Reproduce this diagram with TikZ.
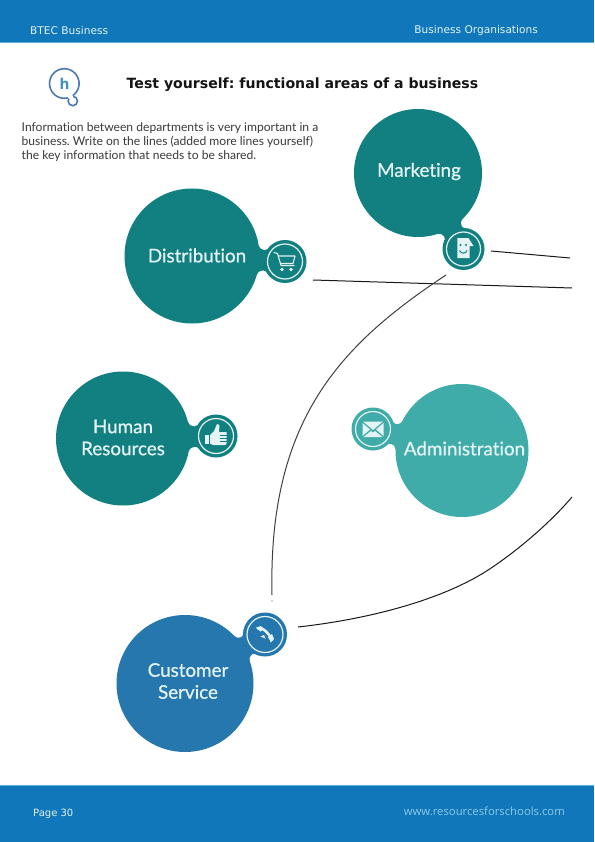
\documentclass[tikz,border=0pt]{standalone}
\usepackage{fontspec}
\setmainfont{Open Sans}
\newfontfamily\headfont{DejaVu Sans}
\newfontfamily\labfont[Ligatures=CommonOff]{Lato}
\frenchspacing
\definecolor{hdr}{HTML}{0F77BA}
\definecolor{hdrline}{HTML}{5FB0DC}
\definecolor{tealb}{HTML}{127F80}
\definecolor{teall}{HTML}{3FACA9}
\definecolor{blueb}{HTML}{2577AE}
\definecolor{ico}{HTML}{E4F3F3}
\definecolor{bodyt}{HTML}{3A3A3A}
\definecolor{hring}{HTML}{4F77B4}
\definecolor{hletter}{HTML}{3A8FC6}
\tikzset{
  band/.style={fill=hdr,draw=none},
  lab/.style={text=ico,font=\labfont\addfontfeature{FakeBold=0.8}\fontsize{18.8}{22}\selectfont,align=center,inner sep=0pt},
  ring/.style={draw=ico,line width=1.2pt,fill=none},
  iconline/.style={draw=ico,line width=1.1pt,fill=none,line cap=round,line join=round},
  hdrtxt/.style={text=ico,font=\headfont\fontsize{10.6}{12}\selectfont,inner sep=0pt},
  wline/.style={draw=black!90,line width=1pt},
}
\newcommand{\bubble}[8]{% name, colour, cx, cy, r, ix, iy, ir
  \fill[#2] (#3,#4) circle[radius=#5];
  \fill[#2] (#6,#7) circle[radius=#8];
  \pgfmathsetmacro{\nka}{atan2(#7-#4,#6-#3)}
  \pgfmathsetmacro{\nkd}{veclen(#6-#3,#7-#4)}
  \pgfmathsetmacro{\nkx}{sqrt(#5*#5-225)}
  \pgfmathsetmacro{\nky}{\nkd-sqrt(#8*#8-225)}
  \begin{scope}[shift={(#3,#4)},rotate=-\nka]
    \fill[#2] (\nkx,15) .. controls (\nkx+2,8.5) and (\nky-2,8.5) .. (\nky,15)
      -- (\nky,-15) .. controls (\nky-2,-8.5) and (\nkx+2,-8.5) .. (\nkx,-15) -- cycle;
  \end{scope}
  \coordinate (#1) at (#3,#4);
  \coordinate (#1i) at (#6,#7);
  \draw[ring] (#6,#7) circle[radius=#8-4];
}
\begin{document}
\begin{tikzpicture}[x=1pt,y=-1pt]
\useasboundingbox (0,0) rectangle (594,842);
\fill[white] (0,0) rectangle (594,842);
% bands
\fill[band] (0,0) rectangle (594,42);
\draw[hdrline,line width=0.7pt] (0,42.3) -- (594,42.3);
\fill[band] (0,785) rectangle (594,842);
\draw[hdrline,line width=0.6pt] (0,785.3) -- (594,785.3);
\node[hdrtxt,anchor=west] (hl) at (30,30.5) {BTEC Business};
\node[hdrtxt,anchor=east] (hr) at (538,30.5) {Business Organisations};
\node[hdrtxt,anchor=west,font=\headfont\fontsize{10}{12}\selectfont] (pg) at (33,813.5) {Page 30};
\node[anchor=east,inner sep=0pt,text=hdrline!70!white,font=\fontsize{11.3}{13}\selectfont] (web) at (565,811) {www.resourcesforschools.com};
% h logo
\draw[hring,line width=1.6pt] (72.8,101) circle[radius=4.7];
\draw[hring,line width=1.6pt] (64.3,83.5) circle[radius=14.8];
\fill[white] (70.5,96.8) circle[radius=2.6];
\node[inner sep=0pt,text=hletter,font=\bfseries\fontsize{15}{17}\selectfont] (hlogo) at (64.5,83.5) {h};
% title
\node[anchor=west,inner sep=0pt,font=\headfont\bfseries\fontsize{14.1}{17}\selectfont,text=black!92] (title) at (126.5,84.5) {Test yourself: functional areas of a business};
\node[anchor=north west,inner sep=0pt,text=bodyt,font=\labfont\fontsize{12.1}{14}\selectfont,align=left] (intro) at (21.5,122.5) {Information between departments is very important in a\\business. Write on the lines (added more lines yourself)\\the key information that needs to be shared.};
% bubbles
\bubble{mk}{tealb}{418}{173}{64}{463.5}{249}{21}
\bubble{di}{tealb}{192}{256}{67.5}{285}{261.5}{21.5}
\bubble{hu}{tealb}{123}{438.5}{67}{216}{436}{21.5}
\bubble{ad}{teall}{462}{450.5}{66.5}{373}{429}{21.5}
\bubble{cu}{blueb}{185}{683.5}{68.5}{265}{634.5}{22}
\node[lab] (mkl) at (419,171.5) {Marketing};
\node[lab] (dil) at (197,255.5) {Distribution};
\node[lab] (hul) at (123,437.5) {Human\\Resources};
\node[lab] (adl) at (464.5,448.5) {Administration};
\node[lab] (cul) at (188,681) {Customer\\Service};
% smile icon
\begin{scope}[shift={(mki)}]
  \fill[ico] (-6.2,-11) -- (5,-11) -- (10,-3) -- (6,-3) -- (6,9) -- (-6.2,9) -- cycle;
  \fill[tealb] (-3,-4) circle[radius=1.1] (2.5,-4) circle[radius=1.1];
  \draw[tealb,line width=1pt] (-4,1.5) .. controls (-2.5,5) and (2.5,5) .. (3.5,1.5);
\end{scope}
% cart icon
\begin{scope}[shift={(dii)}]
  \draw[iconline] (-11,-9) -- (-7.5,-8) -- (-4,4) -- (9,4);
  \draw[iconline] (-6.5,-5.5) -- (10,-5.5) -- (8,2) -- (-4.5,2);
  \fill[ico] (-3,8) circle[radius=1.8] (6,8) circle[radius=1.8];
\end{scope}
% thumb icon
\begin{scope}[shift={(hui)}]
  \fill[ico] (-11,-1.5) rectangle (-7.5,8);
  \fill[ico] (-6,-1) -- (-2,-5) -- (1,-12) -- (3.5,-11) -- (3,-4) -- (10.5,-4) -- (10.5,8) -- (9,9) -- (-3,9) -- (-6,7.5) -- cycle;
  \draw[tealb,line width=0.6pt] (3.5,-0.5) -- (11,-0.5) (3.5,2.5) -- (11,2.5) (3.5,5.5) -- (11,5.5);
\end{scope}
% envelope icon
\begin{scope}[shift={(adi)}]
  \fill[ico] (-10,-7.5) -- (10,-7.5) -- (0,1) -- cycle;
  \fill[ico] (-10.5,-6) -- (-3,0.5) -- (-10.5,7) -- cycle;
  \fill[ico] (10.5,-6) -- (3,0.5) -- (10.5,7) -- cycle;
  \fill[ico] (-9.5,8) -- (-2,2) -- (0,3.5) -- (2,2) -- (9.5,8) -- cycle;
\end{scope}
% phone icon
\begin{scope}[shift={(cui)}]
  \draw[ico,line width=2.6pt,line cap=round] (-7,-6) .. controls (-5,-7) and (-2,-6) .. (1,-3) .. controls (4,0) and (6,3) .. (6.5,5);
  \fill[ico] (-9,-7) -- (-4,-8.5) -- (-1.5,-5) -- (-4.5,-3) -- cycle;
  \fill[ico] (3,2.5) -- (7,-0.5) -- (9,4.5) -- (6,8) -- cycle;
  \fill[ico] (-4.5,2) -- (-1,0.5) -- (0.5,4) -- cycle;
\end{scope}
% writing lines
\coordinate (a1) at (491,251);
\coordinate (a2) at (570,258);
\coordinate (b1) at (313,280);
\coordinate (b2) at (572,288);
\coordinate (c1) at (446,275);
\coordinate (c2) at (272,595);
\coordinate (c3) at (272,601);
\coordinate (d1) at (298,627);
\coordinate (d2) at (572,497);
\draw[wline] (a1) -- (a2);
\draw[wline] (b1) -- (b2);
\draw[wline,draw=black!75] (c1) .. controls (340,345) and (268,420) .. (c2);
\fill[black!70] (c3) circle[radius=0.7];
\draw[wline] (d1) .. controls (370,619) and (440,600) .. (485,572) .. controls (515,553) and (550,523) .. (d2);
\end{tikzpicture}
\end{document}
